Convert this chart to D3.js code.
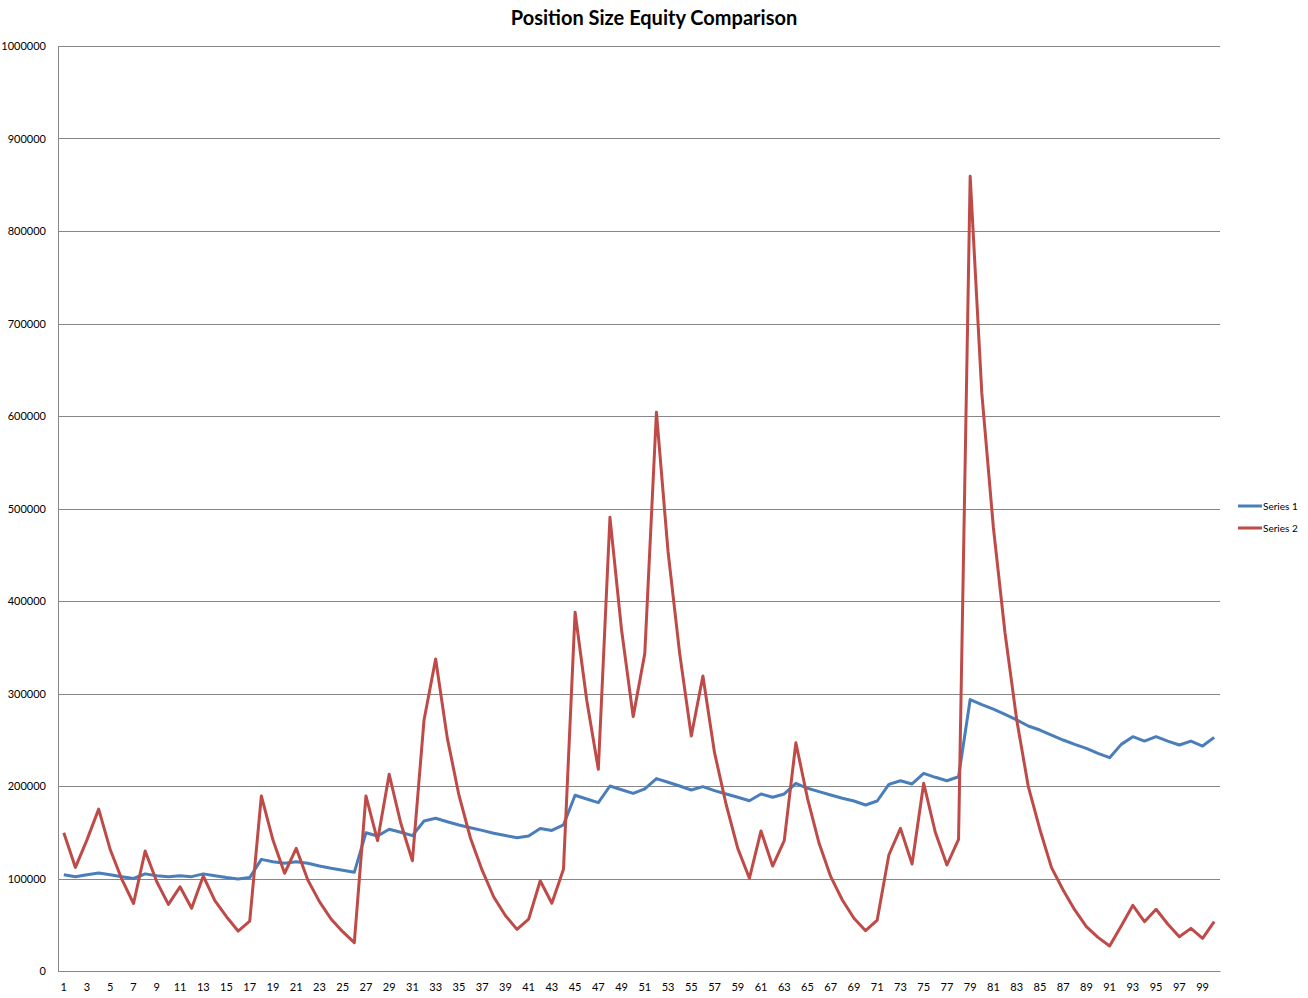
<!DOCTYPE html>
<html>
<head>
<meta charset="utf-8">
<script src="https://cdn.jsdelivr.net/npm/d3@7"></script>
<style>
  body { margin: 0; background: #fff; }
  text { font-family: Lato, "Open Sans", sans-serif; fill: #000; }
</style>
</head>
<body>
<div id="chart"></div>
<script>
// periods 1..100
var periods = d3.range(1, 101);

var series1 = [
  104000, 102000, 104000, 106000, 104000, 102000, 100000, 105000, 103000, 102000,
  103000, 102000, 105000, 103000, 101000, 99500, 101000, 120700, 118200, 116400,
  118200, 116400, 113500, 111000, 108900, 106700, 149500, 146000, 153200, 150000,
  146300, 162200, 165100, 161400, 157800, 154900, 152000, 149000, 146500, 144000,
  146000, 154000, 152000, 158000, 190000, 186000, 182000, 200000, 196000, 192000,
  197000, 208000, 204000, 200000, 195700, 199300, 195000, 191400, 187800, 184100,
  191400, 187800, 191400, 202900, 197500, 193900, 190300, 186700, 183800, 179500,
  183800, 201800, 205700, 202200, 213700, 209400, 205700, 210000, 293500, 288000,
  283000, 277500, 271400, 264900, 260500, 255100, 249700, 245000, 240700, 235300,
  230600, 245000, 253300, 248600, 253300, 248600, 244300, 248600, 243200, 252600
];

var series2 = [
  149500, 112000, 142000, 175000, 131000, 99000, 73000, 129700, 96500, 72000,
  91000, 67800, 102700, 76000, 58700, 43200, 54000, 189200, 141600, 105600,
  132600, 98400, 75000, 56200, 42500, 30600, 189200, 140900, 212600, 159700,
  119200, 271400, 337300, 252000, 190300, 143500, 109000, 80000, 60000, 45000,
  56000, 97600, 73200, 110000, 387800, 293000, 218000, 490500, 368600, 275000,
  343400, 604000, 453300, 343400, 254000, 318900, 236000, 180000, 132600, 100200,
  151400, 113500, 140900, 246800, 186700, 138000, 102000, 76800, 57000, 43600,
  55100, 125400, 154200, 115700, 202900, 150000, 114600, 142400, 859100, 625000,
  479000, 365400, 272000, 199600, 153000, 111700, 87600, 66000, 47900, 36400,
  27000, 48600, 71000, 53300, 66700, 50800, 37100, 46100, 35300, 53300
];

var seriesNames = ["Series 1", "Series 2"];
var seriesColors = ["#4a7ebb", "#be4b48"];
var yTicks = d3.range(0, 1000001, 100000);

var W = 1308, H = 998;
var margin = {top: 46, right: 88, bottom: 27, left: 58};
var width = W - margin.left - margin.right,
    height = H - margin.top - margin.bottom;

var svg = d3.select("#chart").append("svg")
    .attr("width", W)
    .attr("height", H);

// title
svg.append("text")
    .attr("x", 654)
    .attr("y", 25)
    .attr("text-anchor", "middle")
    .style("font-size", "20px")
    .style("font-weight", "bold")
    .text("Position Size Equity Comparison");

var g = svg.append("g")
    .attr("transform", "translate(" + margin.left + "," + margin.top + ")");

var x = d3.scaleBand()
    .domain(periods)
    .range([0, width]);

var y = d3.scaleLinear()
    .domain([0, 1000000])
    .range([height, 0]);

// gridlines
g.append("g")
  .selectAll("line")
  .data(yTicks)
  .enter().append("line")
    .attr("x1", 0)
    .attr("x2", width)
    .attr("y1", function(d) { return Math.round(y(d)) + 0.5; })
    .attr("y2", function(d) { return Math.round(y(d)) + 0.5; })
    .attr("stroke", "#878787")
    .attr("stroke-width", 1);

// y axis
var yAxis = g.append("g")
    .call(d3.axisLeft(y).tickValues(yTicks).tickSize(0).tickPadding(12).tickFormat(d3.format("d")));
yAxis.select(".domain").attr("stroke", "#878787");
yAxis.selectAll("text").style("font-size", "11px");

// x axis
var xAxis = g.append("g")
    .attr("transform", "translate(0," + height + ")")
    .call(d3.axisBottom(x).tickValues(periods.filter(function(d) { return d % 2 === 1; })).tickSize(0).tickPadding(12));
xAxis.select(".domain").attr("stroke", "#878787");
xAxis.selectAll("text").style("font-size", "11px");

// lines
var line = d3.line()
    .x(function(d, i) { return x(periods[i]) + x.bandwidth() / 2; })
    .y(function(d) { return y(d); });

[series1, series2].forEach(function(s, i) {
  g.append("path")
    .datum(s)
    .attr("fill", "none")
    .attr("stroke", seriesColors[i])
    .attr("stroke-width", 3)
    .attr("stroke-linejoin", "round")
    .attr("d", line);
});

// legend
var legend = svg.selectAll(".legend")
    .data(seriesNames)
  .enter().append("g")
    .attr("class", "legend")
    .attr("transform", function(d, i) { return "translate(1238," + (506 + i * 22) + ")"; });

legend.append("line")
    .attr("x1", 0)
    .attr("x2", 24)
    .attr("stroke", function(d, i) { return seriesColors[i]; })
    .attr("stroke-width", 3);

legend.append("text")
    .attr("x", 25)
    .attr("dy", "0.35em")
    .style("font-size", "10px")
    .text(function(d) { return d; });
</script>
</body>
</html>
